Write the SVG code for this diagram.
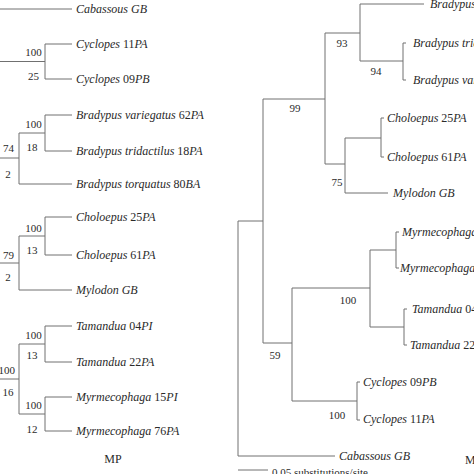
<svg xmlns="http://www.w3.org/2000/svg" width="474" height="474" viewBox="0 0 474 474">
<style>
.br{fill:none;stroke:#707070;stroke-width:1}
text{font-family:"Liberation Serif","Times New Roman",serif;fill:#2a2a2a}
.tip{font-size:12px}
.i{font-style:italic}
.bs{font-size:11px;text-anchor:middle}
.bsl{font-size:11px;text-anchor:end}
.ttl{font-size:12px;text-anchor:middle}
</style>
<rect width="474" height="474" fill="#fff"/>
<g id="connectors">
<!-- MP tree -->
<path class="br" d="M0 9H72"/>
<path class="br" d="M0 61.5H45M45 44V79M45 44H72M45 79H72"/>
<path class="br" d="M0 158H19M19 133V184M19 133H45M45 115V151M45 115H72M45 151H72M19 184H72"/>
<path class="br" d="M0 263H19M19 236V290M19 236H45M45 217V255M45 217H72M45 255H72M19 290H72"/>
<path class="br" d="M0 379H19M19 344V414M19 344H45M45 326V362M45 326H72M45 362H72M19 414H45M45 397V431M45 397H72M45 431H72"/>
<!-- ML tree -->
<path class="br" d="M238 221V456M238 456H335M238 221H263M263 99V343"/>
<path class="br" d="M263 99H325M325 33V164M325 33H360M360 4V61M360 4H424M360 61H403M403 43V80M403 43H406M403 80H406"/>
<path class="br" d="M325 164H345M345 138V193M345 138H381M381 118V157M381 118H384M381 157H384M345 193H388"/>
<path class="br" d="M263 343H292M292 288V401M292 288H370M370 250V327M370 250H396M396 232V268M396 232H399M396 268H399M370 327H404M404 309V345M404 309H407M404 345H407"/>
<path class="br" d="M292 401H357M357 382V420M357 382H360M357 420H360"/>
<path class="br" d="M238 470H268"/>
</g>
<g id="mp-labels">
<text class="tip i" x="76" y="13">Cabassous GB</text>
<text class="tip" x="76" y="48"><tspan class="i">Cyclopes</tspan> 11<tspan class="i">PA</tspan></text>
<text class="tip" x="76" y="83"><tspan class="i">Cyclopes</tspan> 09<tspan class="i">PB</tspan></text>
<text class="tip" x="76" y="119"><tspan class="i">Bradypus variegatus</tspan> 62<tspan class="i">PA</tspan></text>
<text class="tip" x="76" y="155"><tspan class="i">Bradypus tridactilus</tspan> 18<tspan class="i">PA</tspan></text>
<text class="tip" x="76" y="188"><tspan class="i">Bradypus torquatus</tspan> 80<tspan class="i">BA</tspan></text>
<text class="tip" x="76" y="221"><tspan class="i">Choloepus</tspan> 25<tspan class="i">PA</tspan></text>
<text class="tip" x="76" y="259"><tspan class="i">Choloepus</tspan> 61<tspan class="i">PA</tspan></text>
<text class="tip i" x="76" y="294">Mylodon GB</text>
<text class="tip" x="76" y="330"><tspan class="i">Tamandua</tspan> 04<tspan class="i">PI</tspan></text>
<text class="tip" x="76" y="366"><tspan class="i">Tamandua</tspan> 22<tspan class="i">PA</tspan></text>
<text class="tip" x="76" y="401"><tspan class="i">Myrmecophaga</tspan> 15<tspan class="i">PI</tspan></text>
<text class="tip" x="76" y="435"><tspan class="i">Myrmecophaga</tspan> 76<tspan class="i">PA</tspan></text>
<text class="bs" x="33.5" y="56">100</text>
<text class="bs" x="33.5" y="80">25</text>
<text class="bs" x="33.5" y="128">100</text>
<text class="bs" x="32" y="151">18</text>
<text class="bs" x="8.5" y="152">74</text>
<text class="bs" x="8" y="178">2</text>
<text class="bs" x="33.5" y="232">100</text>
<text class="bs" x="32" y="254">13</text>
<text class="bs" x="8.5" y="259">79</text>
<text class="bs" x="8" y="281">2</text>
<text class="bs" x="33.5" y="339">100</text>
<text class="bs" x="32" y="359">13</text>
<text class="bsl" x="15" y="374">100</text>
<text class="bs" x="8" y="396">16</text>
<text class="bs" x="33.5" y="409">100</text>
<text class="bs" x="32" y="433">12</text>
<text class="ttl" x="113" y="463">MP</text>
</g>
<g id="ml-labels">
<text class="tip" x="430" y="8"><tspan class="i">Bradypus torquatus</tspan> 80<tspan class="i">BA</tspan></text>
<text class="tip" x="413" y="47"><tspan class="i">Bradypus tridactilus</tspan> 18<tspan class="i">PA</tspan></text>
<text class="tip" x="413" y="84"><tspan class="i">Bradypus variegatus</tspan> 62<tspan class="i">PA</tspan></text>
<text class="tip" x="387" y="122"><tspan class="i">Choloepus</tspan> 25<tspan class="i">PA</tspan></text>
<text class="tip" x="387" y="161"><tspan class="i">Choloepus</tspan> 61<tspan class="i">PA</tspan></text>
<text class="tip i" x="393" y="197">Mylodon GB</text>
<text class="tip" x="402" y="236"><tspan class="i">Myrmecophaga</tspan> 15<tspan class="i">PI</tspan></text>
<text class="tip" x="400" y="272"><tspan class="i">Myrmecophaga</tspan> 76<tspan class="i">PA</tspan></text>
<text class="tip" x="412" y="313"><tspan class="i">Tamandua</tspan> 04<tspan class="i">PI</tspan></text>
<text class="tip" x="410" y="349"><tspan class="i">Tamandua</tspan> 22<tspan class="i">PA</tspan></text>
<text class="tip" x="363" y="386"><tspan class="i">Cyclopes</tspan> 09<tspan class="i">PB</tspan></text>
<text class="tip" x="363" y="423"><tspan class="i">Cyclopes</tspan> 11<tspan class="i">PA</tspan></text>
<text class="tip i" x="339" y="460">Cabassous GB</text>
<text class="bs" x="342" y="47">93</text>
<text class="bs" x="376" y="75">94</text>
<text class="bs" x="295" y="112">99</text>
<text class="bs" x="337" y="186">75</text>
<text class="bs" x="348" y="304">100</text>
<text class="bs" x="275" y="359">59</text>
<text class="bs" x="337" y="419">100</text>
<text x="272" y="476" style="font-size:11px">0.05 substitutions/site</text>
<text class="tip" x="465" y="464">ML</text>
</g>
</svg>
